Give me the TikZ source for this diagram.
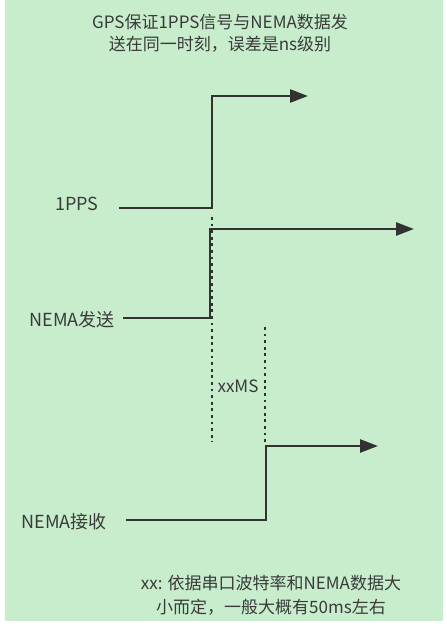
\documentclass[tikz,border=0pt]{standalone}
\usepackage{fontspec}
\setmainfont{Noto Sans CJK SC}
\usetikzlibrary{arrows.meta}

\definecolor{bggreen}{RGB}{199,237,204}
\definecolor{ink}{RGB}{50,50,50}
\definecolor{txt}{RGB}{58,58,58}

\tikzset{
  signal/.style={draw=ink, line width=2.6pt, line join=miter, -{Triangle[length=18pt,width=13pt]}},
  marker/.style={draw=ink, line width=2.8pt, dash pattern=on 2.8pt off 3.8pt},
  lbl/.style={text=txt, font=\fontsize{18}{20}\selectfont, inner sep=0pt},
  note/.style={text=txt, align=center, inner sep=0pt},
}

\begin{document}
\begin{tikzpicture}[x=1pt,y=-1pt]
    \useasboundingbox (0,0) rectangle (447,627);
    \fill[bggreen] (5,0) rectangle (443,621);

    % title
    \node[note, font=\fontsize{17}{22}\selectfont] (title) at (220,33)
      {GPS保证1PPS信号与NEMA数据发\\送在同一时刻，误差是ns级别};

    % signal labels
    \node[lbl] (ppsl) at (77,204) {1PPS};
    \node[lbl] (sendl) at (72,320) {NEMA发送};
    \node[lbl] (recvl) at (64,522) {NEMA接收};

    % corners of the signals
    \coordinate (ppsa) at (119,208);  \coordinate (ppsb) at (212,96);  \coordinate (ppsc) at (308,96);
    \coordinate (senda) at (123,318); \coordinate (sendb) at (210,229); \coordinate (sendc) at (414,229);
    \coordinate (recva) at (126,520); \coordinate (recvb) at (266,446); \coordinate (recvc) at (378,446);

    \draw[signal] (ppsa) -| (ppsb) -- (ppsc);
    \draw[signal] (senda) -| (sendb) -- (sendc);
    \draw[signal] (recva) -| (recvb) -- (recvc);

    % delay markers
    \coordinate (mka) at (212,217); \coordinate (mkb) at (212,442);
    \coordinate (mkc) at (265,327); \coordinate (mkd) at (265,442);
    \draw[marker] (mka) -- (mkb);
    \draw[marker] (mkc) -- (mkd);
    \node[lbl, font=\fontsize{17}{20}\selectfont] (delay) at (238,386) {xxMS};

    % footnote
    \node[note, font=\fontsize{17}{24}\selectfont] (foot) at (271,595)
      {xx: 依据串口波特率和NEMA数据大\\小而定，一般大概有50ms左右};
\end{tikzpicture}
\end{document}
